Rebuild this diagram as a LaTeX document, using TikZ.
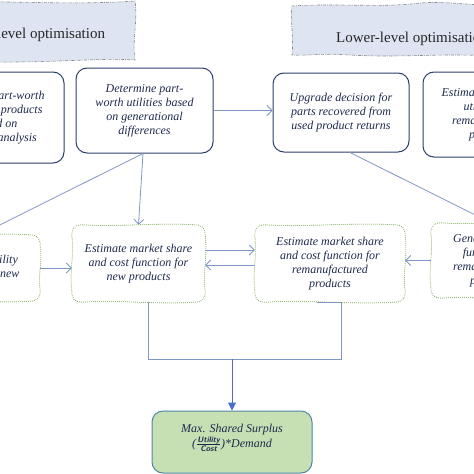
\documentclass[tikz,border=0pt]{standalone}
\usepackage{fontspec}
\setmainfont{Liberation Serif}
\usetikzlibrary{arrows.meta,calc}
\definecolor{navy}{HTML}{2E3F6B}
\definecolor{txt}{HTML}{1F2A4D}
\definecolor{conn}{HTML}{8096C4}
\definecolor{dotgreen}{HTML}{7FA85A}
\definecolor{bannerfill}{HTML}{DEE4F2}
\definecolor{bannerline}{HTML}{8A8A8A}
\definecolor{finalfill}{HTML}{C6E0B4}
\definecolor{finalline}{HTML}{4F86A6}
\definecolor{arrowblue}{HTML}{4A6FC2}
\newcommand\wavyframe[1]{%
\draw[wavyline]
 ($(#1.north west)+(11,0)$)
 .. controls ($(#1.north west)!0.35!(#1.north east)+(0,2.5)$) and ($(#1.north west)!0.65!(#1.north east)+(0,-2.5)$) .. ($(#1.north east)+(-11,0)$)
 .. controls ($(#1.north east)+(-3,0)$) and ($(#1.north east)+(0,3)$) .. ($(#1.north east)+(0,11)$)
 .. controls ($(#1.north east)!0.4!(#1.south east)+(2.5,0)$) and ($(#1.north east)!0.6!(#1.south east)+(-2.5,0)$) .. ($(#1.south east)+(0,-11)$)
 .. controls ($(#1.south east)+(0,-3)$) and ($(#1.south east)+(-3,0)$) .. ($(#1.south east)+(-11,0)$)
 .. controls ($(#1.south west)!0.65!(#1.south east)+(0,2.5)$) and ($(#1.south west)!0.35!(#1.south east)+(0,-2.5)$) .. ($(#1.south west)+(11,0)$)
 .. controls ($(#1.south west)+(3,0)$) and ($(#1.south west)+(0,-3)$) .. ($(#1.south west)+(0,-11)$)
 .. controls ($(#1.north west)!0.6!(#1.south west)+(-2.5,0)$) and ($(#1.north west)!0.4!(#1.south west)+(2.5,0)$) .. ($(#1.north west)+(0,11)$)
 .. controls ($(#1.north west)+(0,3)$) and ($(#1.north west)+(3,0)$) .. cycle;}
\begin{document}
\begin{tikzpicture}[x=1pt,y=-1pt,
  nodetext/.style={align=center, font=\fontsize{12}{14}\selectfont\itshape, text=txt, inner sep=0pt},
  solidbox/.style={nodetext, draw=navy, line width=1pt, rounded corners=11pt, fill=white},
  wavybox/.style={nodetext},
  wavyline/.style={draw=dotgreen, line width=1.1pt, dash pattern=on 0pt off 2pt, line cap=round},
  finalbox/.style={draw=finalline, line width=1pt, rounded corners=11pt, fill=finalfill},
  bannerstyle/.style={draw=bannerline, fill=bannerfill, line width=0.6pt, dash pattern=on 3pt off 1.2pt on 0.8pt off 1.2pt},
  bannertext/.style={font=\fontsize{15}{17}\selectfont, text=black!85, inner sep=0pt},
  conn/.style={draw=conn, line width=0.8pt},
  arr/.style={conn, -{Straight Barb[length=5pt,width=10pt]}},
  mainarr/.style={draw=arrowblue, line width=1pt, -{Triangle[length=8pt,width=8pt]}}
]
\useasboundingbox (0,0) rectangle (474,474);
\clip (0,0) rectangle (474,474);

% banners
\draw[bannerstyle] (-80,3) .. controls (0,-1) and (60,6) .. (135,1)
  .. controls (138,20) and (132,40) .. (135,60)
  .. controls (90,57) and (40,66) .. (-80,60) -- cycle;
\node[bannertext, anchor=base] (ubt) at (30,38) {Upper-level optimisation};
\draw[bannerstyle] (292,6) .. controls (340,3) and (380,8) .. (420,3)
  .. controls (445,1) and (465,5) .. (490,5) -- (490,56)
  .. controls (440,53) and (400,58) .. (350,55)
  .. controls (320,53) and (305,56) .. (292,55)
  .. controls (294,40) and (290,20) .. (292,6) -- cycle;
\node[bannertext, anchor=base] (lbt) at (412,42) {Lower-level optimisation};

% row 1
\node[solidbox, minimum width=136pt, minimum height=91pt] (A) at (-4,117.5)
  {Estimate part-worth\\utilities of products\\based on\\conjoint analysis};
\node[solidbox, minimum width=137pt, minimum height=85pt] (B) at (144.5,110.5)
  {Determine part-\\worth utilities based\\on generational\\differences};
\node[solidbox, minimum width=136pt, minimum height=79pt] (C) at (341,112.5)
  {Upgrade decision for\\parts recovered from\\used product returns};
\node[solidbox, minimum width=134pt, minimum height=85pt] (D) at (490,114.5)
  {Estimate part-worth\\utilities for\\remanufactured\\products};

% row 2
\node[wavybox, minimum width=120pt, minimum height=66pt] (E) at (-20,268)
  {Generate utility\\function for new};
\node[wavybox, minimum width=133pt, minimum height=77pt] (F) at (138.5,263.5)
  {Estimate market share\\and cost function for\\new products};
\node[wavybox, minimum width=150pt, minimum height=77pt] (G) at (330,263.5)
  {Estimate market share\\and cost function for\\remanufactured\\products};
\node[wavybox, minimum width=120pt, minimum height=75pt] (H) at (491,260.5)
  {Generate utility\\function for\\remanufactured\\products};
\wavyframe{E}
\wavyframe{F}
\wavyframe{G}
\wavyframe{H}

% final
\node[finalbox, minimum width=160pt, minimum height=62pt] (I) at (232,442) {};
\node[nodetext] (It) at (232,438)
  {Max. Shared Surplus\\[1pt](\(\frac{\mbox{\fontsize{8}{9}\selectfont\sffamily\bfseries Utility}}{\mbox{\fontsize{8}{9}\selectfont\sffamily\bfseries Cost}}\))*Demand};

% connectors
\draw[arr] (B.east) -- (B.east -| C.west);
\draw[arr] ([xshift=-1.5pt]B.south) -- (F.north);
\draw[conn] ([xshift=-1.5pt]B.south) -- (E.north);
\draw[arr] ([xshift=9pt]C.south) -- (H.north);
\draw[arr] (E.east) -- (E.east -| F.west);
\draw[arr] ([yshift=13.5pt]F.east) -- ([yshift=13.5pt]F.east -| G.west);
\draw[arr] ([yshift=-1.5pt]G.west) -- ([yshift=-1.5pt]G.west -| F.east);
\draw[arr] (H.west) -- (H.west -| G.east);

\coordinate (J) at (232,359);
\draw[conn] ([xshift=-13pt]G.south) -- ([xshift=11pt]G.south) -- ([xshift=11pt]G.south |- J) -- ([xshift=10pt]F.south |- J) -- ([xshift=10pt]F.south);
\draw[mainarr] (J) -- (I.north);
\end{tikzpicture}
\end{document}
